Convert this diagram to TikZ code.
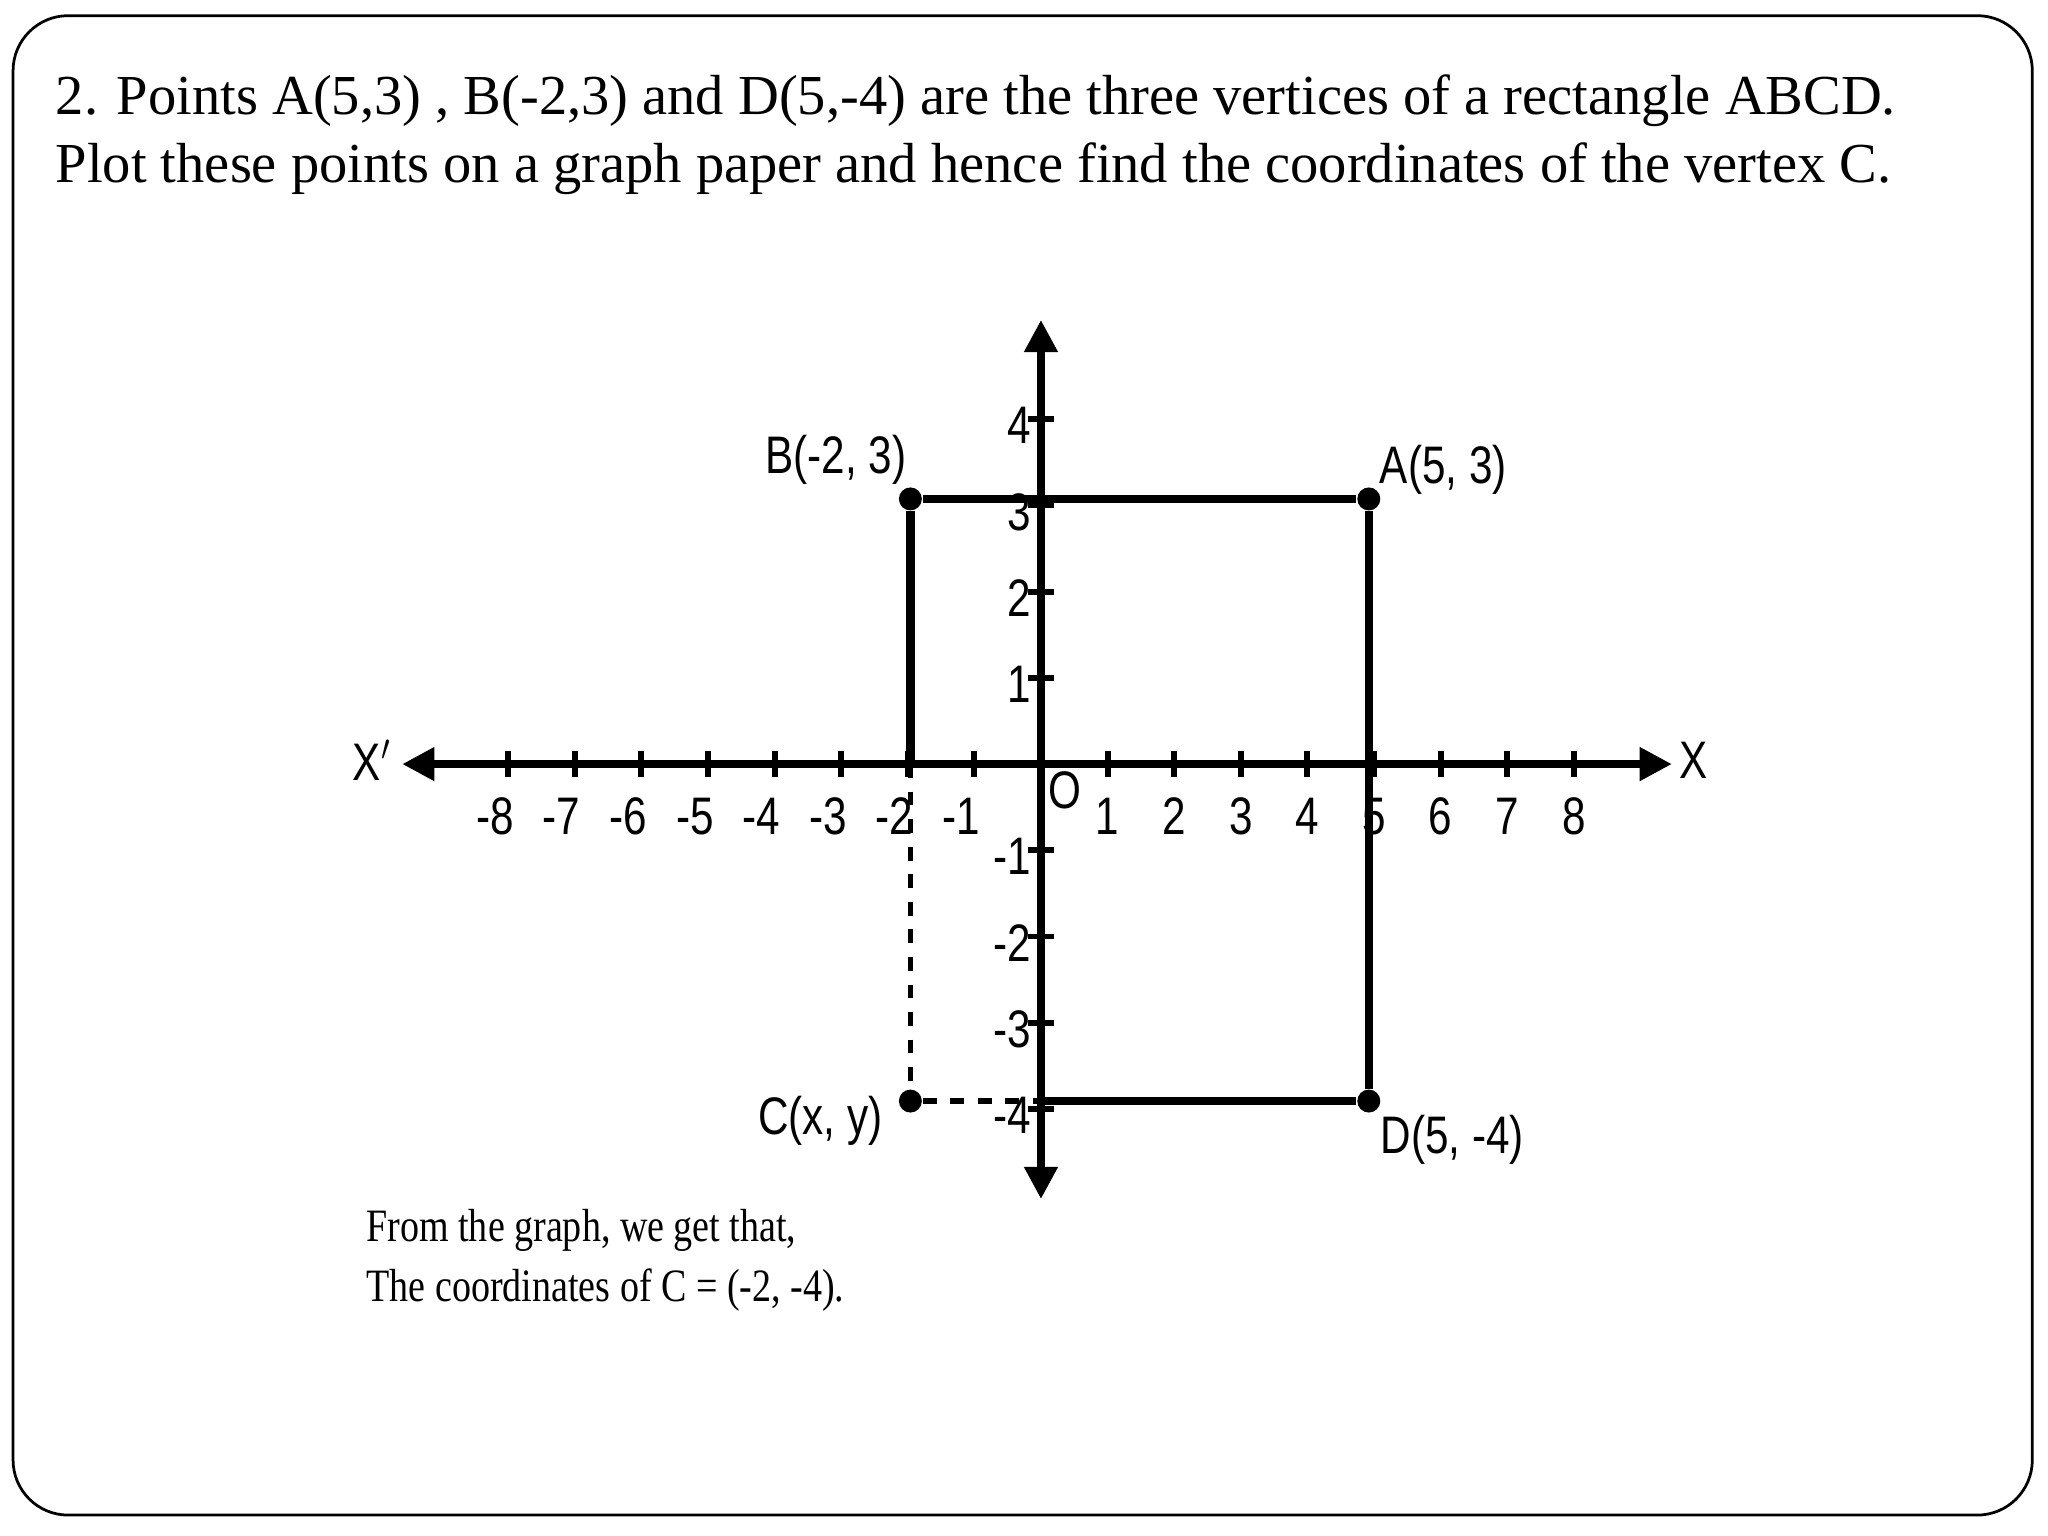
\documentclass[tikz,border=0pt]{standalone}
\usepackage{fontspec}
\setmainfont{Liberation Serif}
\newfontfamily\gfont{Liberation Sans}
\usetikzlibrary{arrows.meta}
\begin{document}
\begin{tikzpicture}[x=0.01cm,y=-0.01cm,
  lab/.style={font=\gfont\fontsize{11.5}{12}\selectfont,xscale=0.8,inner sep=0pt},
  ax/.style={line width=1.6pt,-{Triangle[length=7pt,width=7pt]}},
  side/.style={line width=1.8pt},
  dsh/.style={line width=1.2pt,dash pattern=on 3pt off 3pt},
  pt/.style={circle,fill,inner sep=0pt,minimum size=5pt},
  btxt/.style={font=\fontsize{10.1}{12}\selectfont,xscale=0.82,anchor=west,inner sep=0pt}]
\useasboundingbox (0,0) rectangle (1568,1176);
\draw[line width=0.6pt,rounded corners=12pt] (10,12) rectangle (1556,1160);
\node[anchor=base west,inner sep=0pt,font=\fontsize{12.3}{14}\selectfont] (t1) at (42,88) {2. Points A(5,3) , B(-2,3) and D(5,-4) are the three vertices of a rectangle ABCD.};
\node[anchor=base west,inner sep=0pt,font=\fontsize{12.3}{14}\selectfont] (t2) at (42,140) {Plot these points on a graph paper and hence find the coordinates of the vertex C.};
% axes
\coordinate (xl) at (308,585); \coordinate (xr) at (1280,585);
\coordinate (yt) at (797,245); \coordinate (yb) at (797,918);
\draw[ax] (797,585) -- (xl); \draw[ax] (797,585) -- (xr);
\draw[ax] (797,585) -- (yt); \draw[ax] (797,585) -- (yb);
\foreach \i in {-8,...,-1,1,2,...,8} \draw[line width=1.3pt] ({797+51*\i},575) -- ({797+51*\i},595);
\foreach \j in {-4,...,-1,1,2,3,4} \draw[line width=1.3pt] (787,{585-66*\j}) -- (807,{585-66*\j});
\foreach \i in {-8,...,-1} \node[lab] at ({797+51*\i-10},625) {\i};
\foreach \i in {1,...,8} \node[lab] at ({797+51*\i},625) {\i};
\foreach \j in {4,3,2,1,-1,-2,-3,-4} \node[lab,anchor=east] at (790,{585-66*\j+5}) {\j};
\node[lab] (O) at (815,605) {O};
\node[lab] (Xp) at (285,582) {X$'$};
\node[lab] (X) at (1297,582) {X};
% points
\node[pt] (B) at (697,382) {}; \node[pt] (A) at (1048,382) {};
\node[pt] (D) at (1048,843) {}; \node[pt] (C) at (697,843) {};
\coordinate (Bx) at (697,585); \coordinate (Dy) at (797,843);
\draw[side] (B) -- (A) -- (D) -- (Dy); \draw[side] (B) -- (Bx);
\draw[dsh] (Bx) -- (C); \draw[dsh] (C) -- (Dy);
\node[lab] at (640,352) {B(-2, 3)};
\node[lab] at (1105,360) {A(5, 3)};
\node[lab] at (628,858) {C(x, y)};
\node[lab] at (1112,873) {D(5, -4)};
\node[btxt] (f1) at (280,942) {From the graph, we get that,};
\node[btxt] (f2) at (280,988) {The coordinates of C = (-2, -4).};
\end{tikzpicture}
\end{document}
